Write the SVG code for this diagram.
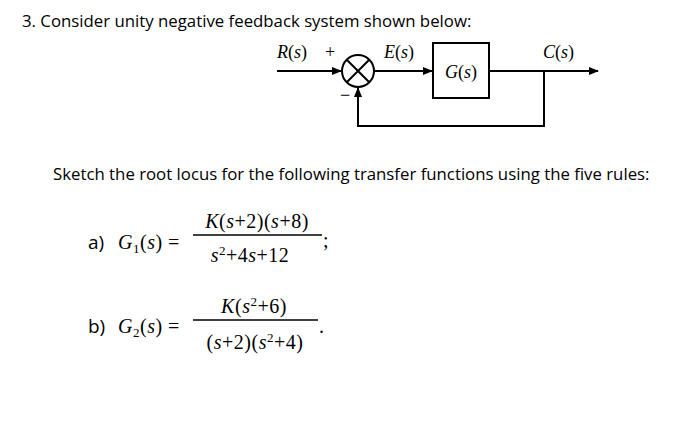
<svg xmlns="http://www.w3.org/2000/svg" width="700" height="432" viewBox="0 0 700 432">
<defs>
<marker id="ah" markerWidth="10" markerHeight="8" refX="9" refY="4" orient="auto" markerUnits="userSpaceOnUse"><path d="M0,0 L10,4 L0,8 Z" fill="#000"/></marker>
<style>
.t{font-family:"Open Sans","Liberation Sans",sans-serif;font-size:16.8px;fill:#000}
.m{font-family:"Liberation Serif",serif;font-size:18px;fill:#000}
.f{font-family:"Liberation Serif",serif;font-size:20px;fill:#000;letter-spacing:0.5px}
.s{font-size:13px}
.i{font-style:italic}
.ln{stroke:#000;stroke-width:2;fill:none}
</style>
</defs>
<rect width="700" height="432" fill="#fff"/>
<text class="t" x="22" y="27">3.  Consider unity negative feedback system shown below:</text>
<g id="sum"><circle cx="358" cy="71" r="16" class="ln"/><path d="M347,60 L369,82 M369,60 L347,82" class="ln"/></g>
<g id="G"><rect x="433" y="43" width="56" height="55" class="ln" stroke-width="2.5"/><text class="m" x="461" y="78" text-anchor="middle"><tspan class="i">G</tspan>(<tspan class="i">s</tspan>)</text></g>
<g id="connectors">
<path d="M277,71 L341,71" class="ln" marker-end="url(#ah)"/>
<path d="M374,71 L432,71" class="ln" marker-end="url(#ah)"/>
<path d="M489,71 L598,71" class="ln" marker-end="url(#ah)"/>
<path d="M544,71 L544,126 L358,126 L358,88" class="ln" marker-end="url(#ah)"/>
</g>
<text class="m" x="277" y="58"><tspan class="i">R</tspan>(<tspan class="i">s</tspan>)</text>
<text class="m" x="325" y="58">+</text>
<text class="m" x="340" y="101">−</text>
<text class="m" x="384" y="58"><tspan class="i">E</tspan>(<tspan class="i">s</tspan>)</text>
<text class="m" x="543" y="58"><tspan class="i">C</tspan>(<tspan class="i">s</tspan>)</text>
<text class="t" x="53" y="180">Sketch the root locus for the following transfer functions using the five rules:</text>
<text class="t" x="88" y="249" style="font-size:19px">a)</text>
<text class="f" x="118" y="249"><tspan class="i">G</tspan><tspan class="s" dy="4">1</tspan><tspan dy="-4">(</tspan><tspan class="i">s</tspan>) =</text>
<text class="f" x="257" y="228" text-anchor="middle"><tspan class="i">K</tspan>(<tspan class="i">s</tspan>+2)(<tspan class="i">s</tspan>+8)</text>
<line x1="193" y1="235" x2="322" y2="235" stroke="#000" stroke-width="1.5"/>
<text class="f" x="250" y="262" text-anchor="middle"><tspan class="i">s</tspan><tspan class="s" dy="-7">2</tspan><tspan dy="7">+4</tspan><tspan class="i">s</tspan>+12</text>
<text class="f" x="323" y="247">;</text>
<text class="t" x="88" y="333" style="font-size:19px">b)</text>
<text class="f" x="118" y="333"><tspan class="i">G</tspan><tspan class="s" dy="4">2</tspan><tspan dy="-4">(</tspan><tspan class="i">s</tspan>) =</text>
<text class="f" x="254" y="313" text-anchor="middle"><tspan class="i">K</tspan>(<tspan class="i">s</tspan><tspan class="s" dy="-7">2</tspan><tspan dy="7">+6)</tspan></text>
<line x1="193" y1="320" x2="318" y2="320" stroke="#000" stroke-width="1.5"/>
<text class="f" x="255" y="349" text-anchor="middle">(<tspan class="i">s</tspan>+2)(<tspan class="i">s</tspan><tspan class="s" dy="-7">2</tspan><tspan dy="7">+4)</tspan></text>
<text class="f" x="319" y="333">.</text>
</svg>
